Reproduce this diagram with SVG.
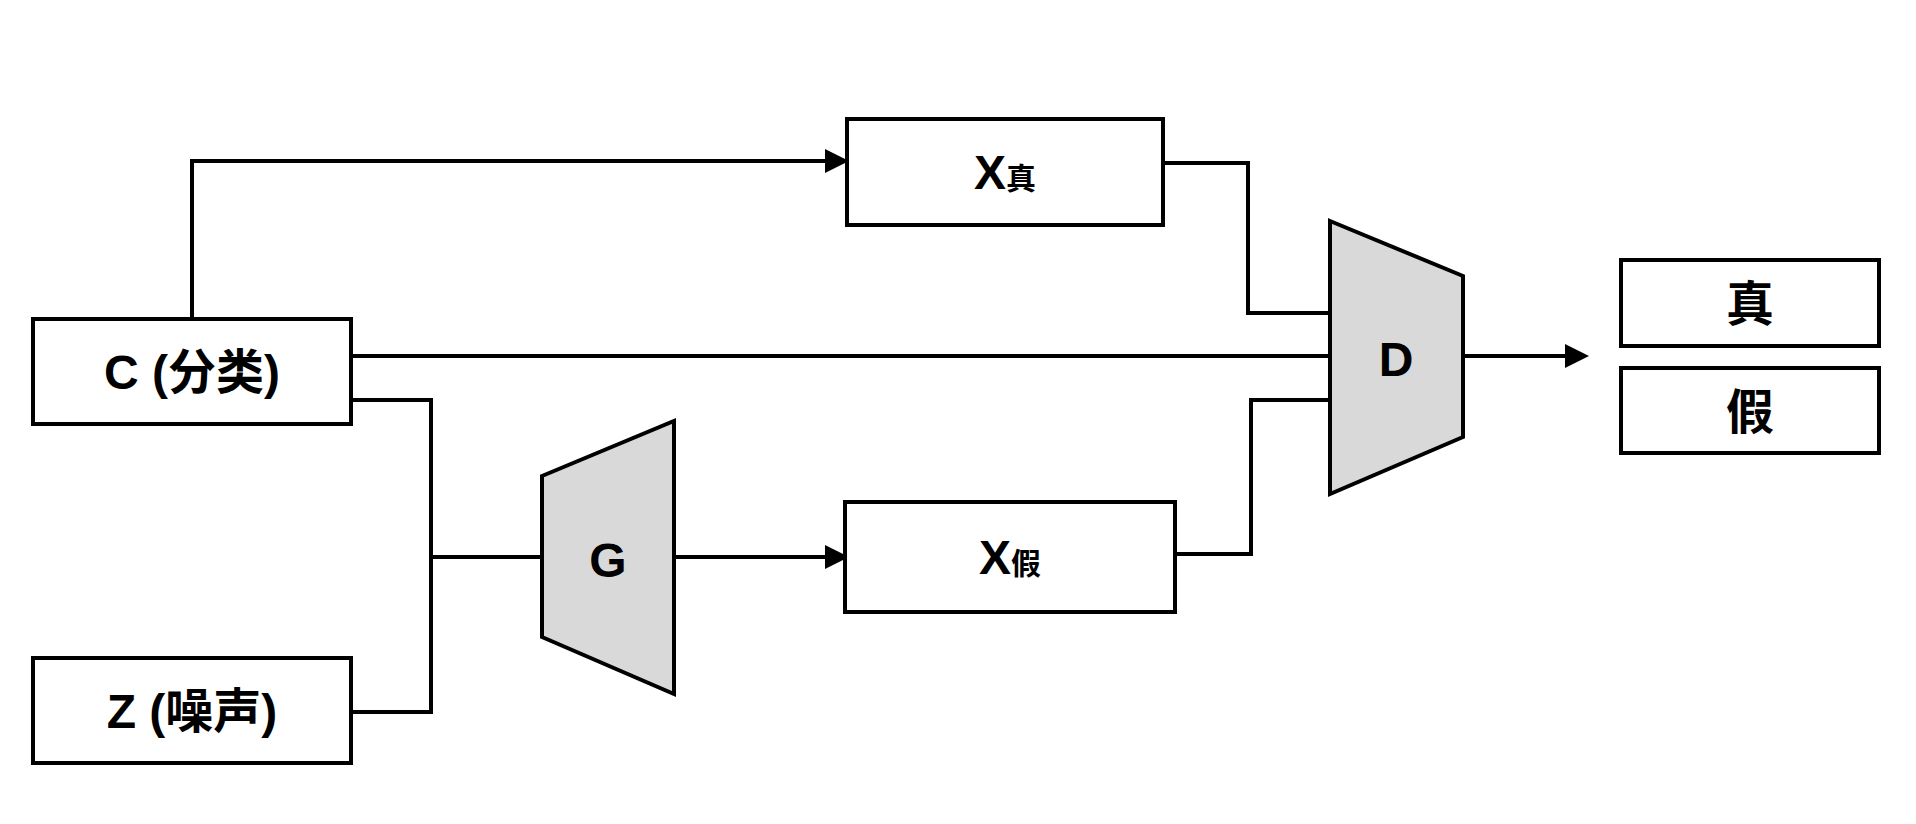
<svg xmlns="http://www.w3.org/2000/svg" width="1916" height="824" viewBox="0 0 1916 824">
<defs>
<style>
.b{fill:#fff;stroke:#000;stroke-width:4}
.t{fill:#d9d9d9;stroke:#000;stroke-width:4}
.c{fill:none;stroke:#000;stroke-width:4}
text{font-family:"Liberation Sans","Noto Sans CJK SC",sans-serif;font-weight:bold;text-anchor:middle;dominant-baseline:central;fill:#000}
.l{font-size:48px}
.s{font-size:30px}
</style>
<marker id="a" markerWidth="6" markerHeight="6" refX="5" refY="3" orient="auto" markerUnits="strokeWidth"><path d="M0,0L6,3L0,6z" fill="#000"/></marker>
</defs>
<rect width="1916" height="824" fill="#fff"/>
<g id="connectors">
<path class="c" d="M192,319V161H845" marker-end="url(#a)"/>
<path class="c" d="M1163,163H1248V313H1328"/>
<path class="c" d="M351,356H1330"/>
<path class="c" d="M1463,356H1585" marker-end="url(#a)"/>
<path class="c" d="M351,400H431V714"/>
<path class="c" d="M351,712H431"/>
<path class="c" d="M431,557H542"/>
<path class="c" d="M674,557H845" marker-end="url(#a)"/>
<path class="c" d="M1175,554H1251V400H1330"/>
</g>
<g id="C"><rect class="b" x="33" y="319" width="318" height="105"/><text class="l" x="192" y="372">C (分类)</text></g>
<g id="Z"><rect class="b" x="33" y="658" width="318" height="105"/><text class="l" x="192" y="711">Z (噪声)</text></g>
<g id="Xreal"><rect class="b" x="847" y="119" width="316" height="106"/><text x="1005" y="172"><tspan class="l">X</tspan><tspan class="s" dy="6">真</tspan></text></g>
<g id="Xfake"><rect class="b" x="845" y="502" width="330" height="110"/><text x="1010" y="557"><tspan class="l">X</tspan><tspan class="s" dy="6">假</tspan></text></g>
<g id="G"><polygon class="t" points="542,476 674,421 674,694 542,637"/><text class="l" x="608" y="560">G</text></g>
<g id="D"><polygon class="t" points="1330,221 1463,276 1463,437 1330,494"/><text class="l" x="1396" y="359">D</text></g>
<g id="real"><rect class="b" x="1621" y="260" width="258" height="86"/><text class="l" x="1750" y="304">真</text></g>
<g id="fake"><rect class="b" x="1621" y="368" width="258" height="85"/><text class="l" x="1750" y="412">假</text></g>
</svg>
